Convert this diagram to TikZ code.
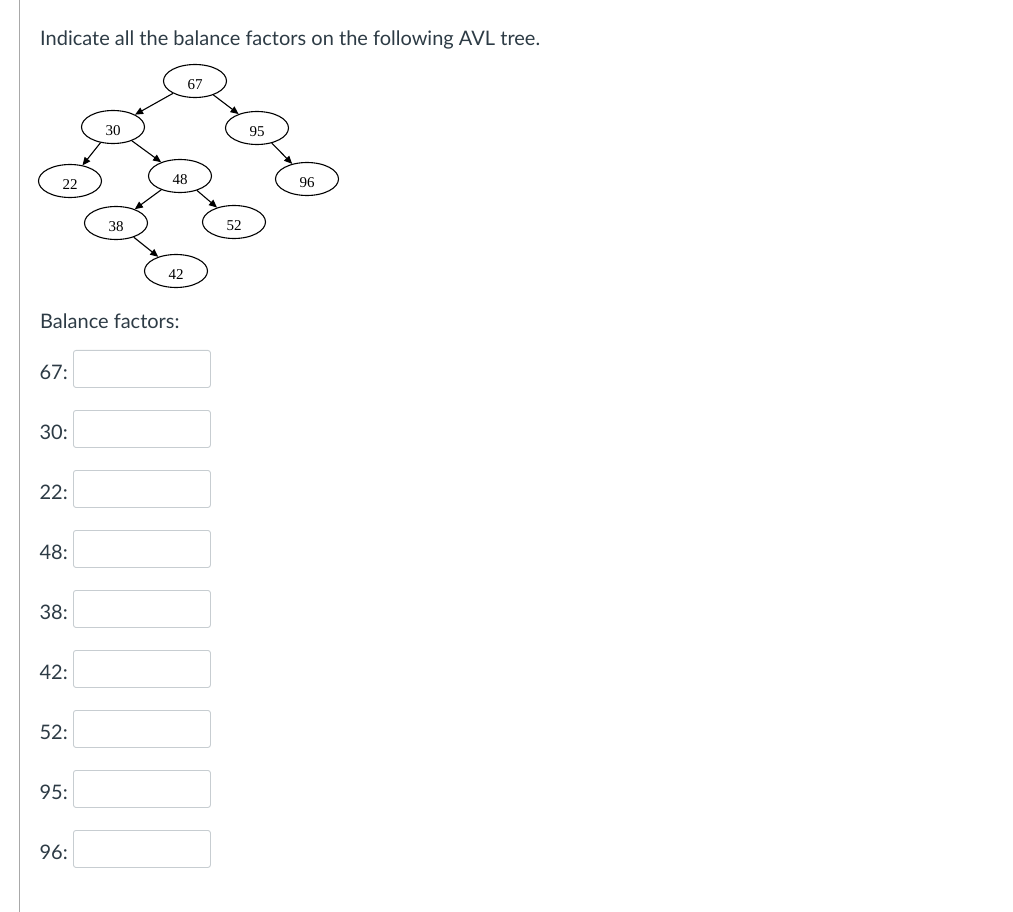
\documentclass[tikz,border=0pt]{standalone}
\usepackage{fontspec}
\setmainfont{Lato}
\newfontfamily\treefont{Liberation Serif}
\usepackage{xcolor}
\usetikzlibrary{shapes.geometric, arrows.meta, positioning, calc}

\definecolor{canvastext}{HTML}{2D3B45}
\definecolor{boxgray}{HTML}{C7CDD1}
\definecolor{railgray}{HTML}{A8A8A8}

\tikzset{
    treenode/.style={draw, ellipse, line width=1.1pt, minimum width=63pt, minimum height=33pt,
        inner sep=0pt, text height=18pt, text depth=0pt,
        font=\treefont\fontsize{15}{17}\selectfont},
    treeedge/.style={line width=1.1pt, -{Triangle[length=8pt,width=7pt]}},
    fieldbox/.style={draw=boxgray, line width=0.9pt, rounded corners=2.5pt, anchor=north west,
        minimum width=137pt, minimum height=37pt, inner sep=0pt},
    fieldlabel/.style={anchor=base east, inner sep=0pt, text=canvastext,
        font=\fontsize{20}{24}\selectfont}
}

\begin{document}
\begin{tikzpicture}[x=1pt, y=-1pt]
\useasboundingbox (0,0) rectangle (1013,912);

% Left rail
\draw[railgray, line width=1pt] (19.5,0) -- (19.5,912);

% Question text
\node[anchor=base west, inner sep=0pt, text=canvastext, font=\fontsize{20}{24}\selectfont]
    (question) at (40,45.5) {Indicate all the balance factors on the following AVL tree.};

% AVL tree
\node[treenode] (n67) at (195,81) {67};
\node[treenode] (n30) at (113,127) {30};
\node[treenode] (n95) at (257,128) {95};
\node[treenode] (n22) at (70,181) {22};
\node[treenode] (n48) at (180,176) {48};
\node[treenode] (n96) at (307,179) {96};
\node[treenode] (n38) at (116,223) {38};
\node[treenode] (n52) at (234,222) {52};
\node[treenode] (n42) at (176,271) {42};

\foreach \from/\to in {67/30, 67/95, 30/22, 30/48, 95/96, 48/38, 48/52, 38/42} {
    \draw[treeedge] (n\from) -- (n\to);
}

% Answer fields
\node[anchor=base west, inner sep=0pt, text=canvastext, font=\fontsize{20}{24}\selectfont]
    (bfhead) at (40,329) {Balance factors:};

\foreach \key [count=\i from 0] in {67,30,22,48,38,42,52,95,96} {
    \node[fieldbox] (box\key) at (73,{350+60*\i}) {};
    \node[fieldlabel] (lbl\key) at (68,{379+60*\i}) {\key:};
}
\end{tikzpicture}
\end{document}
